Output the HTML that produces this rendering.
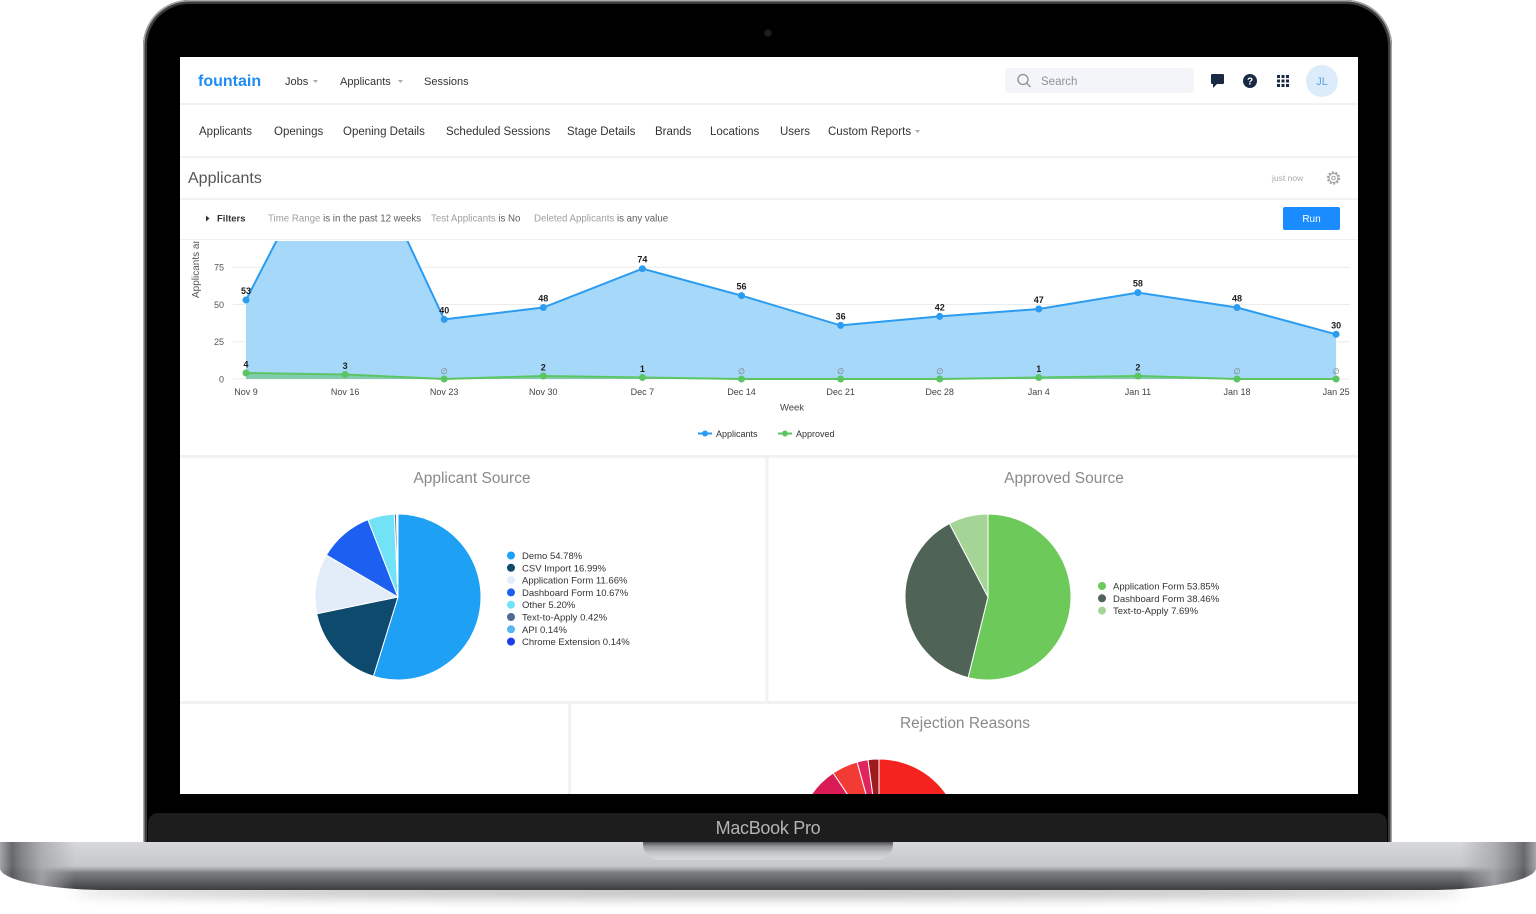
<!DOCTYPE html>
<html><head><meta charset="utf-8"><style>
html,body{margin:0;padding:0;background:#fff;}
body{width:1536px;height:914px;position:relative;overflow:hidden;font-family:"Liberation Sans",sans-serif;}
.abs{position:absolute;}
</style></head><body>

<!-- shadow under base -->
<div class="abs" style="left:70px;top:878px;width:1396px;height:12px;border-radius:50%;box-shadow:0 8px 12px rgba(0,0,0,0.30);"></div>

<!-- lid -->
<div class="abs" style="left:143px;top:0;width:1249px;height:846px;border-radius:46px 46px 0 0;background:#000;box-shadow:inset 0 0 0 1.5px #a8a8a8, inset 0 0 0 4px #3c3c3c;"></div>
<!-- chin -->
<div class="abs" style="left:148px;top:813px;width:1239px;height:30px;background:#1d1d1d;border-radius:10px 10px 0 0;"></div>
<!-- camera -->
<div class="abs" style="left:765px;top:30px;width:6px;height:6px;border-radius:50%;background:#1e1e1e;box-shadow:0 0 0 1px #111;"></div>
<div class="abs" style="left:0;top:818px;width:1536px;text-align:center;font-size:18px;line-height:20px;color:#b4b4b4;letter-spacing:-0.3px;">MacBook Pro</div>

<!-- base -->
<div class="abs" style="left:0;top:842px;width:1536px;height:48px;border-radius:0 0 110px 110px / 0 0 22px 22px;background:linear-gradient(180deg,#d7d8da 0%,#c6c7c9 50%,#a9aaac 56%,#7c7d80 64%,#5f6063 82%,#3c3d40 100%);overflow:hidden;">
  <div style="position:absolute;left:0;top:0;width:100%;height:100%;background:linear-gradient(90deg,#9d9ea1 0,#55565a 12px,#77787b 22px,#a7a8ab 42px,rgba(200,200,200,0) 75px,rgba(200,200,200,0) calc(100% - 75px),#a7a8ab calc(100% - 42px),#77787b calc(100% - 22px),#55565a calc(100% - 12px),#9d9ea1 100%);opacity:0.85;"></div>
</div>
<!-- notch -->
<div class="abs" style="left:643px;top:842px;width:250px;height:18px;border-radius:0 0 16px 16px;background:linear-gradient(180deg,#4e4f52 0,#97989b 25%,#c4c5c7 60%,#d9dadc 100%);"></div>

<!-- screen -->
<svg class="abs" style="left:180px;top:57px;" width="1178" height="737" viewBox="180 57 1178 737" xmlns="http://www.w3.org/2000/svg" font-family="Liberation Sans, sans-serif">
<defs>
  <clipPath id="chartclip"><rect x="180" y="241" width="1178" height="214"/></clipPath>
</defs>
<rect x="180" y="57" width="1178" height="737" fill="#fff"/>

<!-- top nav -->
<text x="198" y="86" font-size="16" font-weight="bold" fill="#1f8cf2">fountain</text>
<text x="285" y="85" font-size="11" fill="#333">Jobs</text>
<path d="M313,80 l5,0 l-2.5,3 z" fill="#aaa"/>
<text x="340" y="85" font-size="11" fill="#333">Applicants</text>
<path d="M398,80 l5,0 l-2.5,3 z" fill="#aaa"/>
<text x="424" y="85" font-size="11" fill="#333">Sessions</text>

<rect x="1005" y="68" width="189" height="25" rx="3" fill="#f3f5f8"/>
<circle cx="1023" cy="79.5" r="5" fill="none" stroke="#8a8f96" stroke-width="1.3"/>
<line x1="1026.8" y1="83.3" x2="1030.5" y2="87" stroke="#8a8f96" stroke-width="1.3"/>
<text x="1041" y="85" font-size="11.5" fill="#8a94a0">Search</text>

<rect x="1211" y="74" width="13" height="10" rx="1" fill="#1b2a44"/>
<path d="M1213,83 l0,5 l5,-5 z" fill="#1b2a44"/>
<circle cx="1250" cy="81" r="7" fill="#1b2a44"/>
<text x="1250" y="84.5" font-size="10" font-weight="bold" fill="#fff" text-anchor="middle">?</text>
<g fill="#1b2a44">
<rect x="1277" y="75" width="3" height="3"/><rect x="1281.5" y="75" width="3" height="3"/><rect x="1286" y="75" width="3" height="3"/>
<rect x="1277" y="79.5" width="3" height="3"/><rect x="1281.5" y="79.5" width="3" height="3"/><rect x="1286" y="79.5" width="3" height="3"/>
<rect x="1277" y="84" width="3" height="3"/><rect x="1281.5" y="84" width="3" height="3"/><rect x="1286" y="84" width="3" height="3"/>
</g>
<circle cx="1322" cy="81" r="16" fill="#dcecfb"/>
<text x="1322" y="85" font-size="11" fill="#5aa0e6" text-anchor="middle">JL</text>
<rect x="180" y="103.5" width="1178" height="1" fill="#e6e6e6"/>

<!-- second nav -->
<g font-size="11.5" fill="#333">
<text x="199" y="135">Applicants</text>
<text x="274" y="135">Openings</text>
<text x="343" y="135">Opening Details</text>
<text x="446" y="135">Scheduled Sessions</text>
<text x="567" y="135">Stage Details</text>
<text x="655" y="135">Brands</text>
<text x="710" y="135">Locations</text>
<text x="780" y="135">Users</text>
<text x="828" y="135">Custom Reports</text>
</g>
<path d="M915,130 l5,0 l-2.5,3 z" fill="#aaa"/>
<rect x="180" y="156.5" width="1178" height="1" fill="#e6e6e6"/>

<!-- title row -->
<text x="188" y="183" font-size="16" fill="#555">Applicants</text>
<text x="1272" y="181" font-size="8.5" fill="#aaa">just now</text>
<circle cx="1333.5" cy="178" r="5.5" fill="none" stroke="#a0a0a0" stroke-width="2.2" stroke-dasharray="2 1.45"/>
<circle cx="1333.5" cy="178" r="4.5" fill="#fff" stroke="#a0a0a0" stroke-width="1"/>
<circle cx="1333.5" cy="178" r="1.8" fill="none" stroke="#a0a0a0" stroke-width="1"/>
<rect x="180" y="198.5" width="1178" height="1" fill="#e6e6e6"/>

<!-- filters -->
<path d="M206,215.5 l3.5,3 l-3.5,3 z" fill="#333"/>
<text x="217" y="221.5" font-size="9.5" font-weight="bold" fill="#333">Filters</text>
<g font-size="9.7">
<text x="268" y="221.5" fill="#a0a0a0">Time Range <tspan fill="#5e5e5e">is in the past 12 weeks</tspan></text>
<text x="431" y="221.5" fill="#a0a0a0">Test Applicants <tspan fill="#5e5e5e">is No</tspan></text>
<text x="534" y="221.5" fill="#a0a0a0">Deleted Applicants <tspan fill="#5e5e5e">is any value</tspan></text>
</g>
<rect x="1283" y="207" width="57" height="23" rx="2" fill="#1a8cff"/>
<text x="1311.5" y="222" font-size="10" fill="#fff" text-anchor="middle">Run</text>
<rect x="180" y="239" width="1178" height="1" fill="#f0f0f0"/>

<!-- chart -->
<g clip-path="url(#chartclip)">
  <g stroke="#ececec" stroke-width="1">
    <line x1="233" y1="230" x2="1350" y2="230"/>
    <line x1="233" y1="267.25" x2="1350" y2="267.25"/>
    <line x1="233" y1="304.5" x2="1350" y2="304.5"/>
    <line x1="233" y1="341.75" x2="1350" y2="341.75"/>
    <line x1="233" y1="379" x2="1350" y2="379"/>
  </g>
  <g font-size="9" fill="#555" text-anchor="end">
    <text x="224" y="270.5">75</text>
    <text x="224" y="307.8">50</text>
    <text x="224" y="345">25</text>
    <text x="224" y="382.3">0</text>
  </g>
  <text transform="translate(199,298) rotate(-90)" font-size="10" fill="#555">Applicants and Approved</text>

  <polygon points="246,379 246,300 345.1,107.8 444.2,319.4 543.3,307.5 642.4,268.7 741.5,295.6 840.6,325.4 939.7,316.4 1038.8,309 1137.9,292.6 1237,307.5 1336.1,334.3 1336.1,379" fill="#a6d8f9"/>
  <polyline points="246,300 345.1,107.8 444.2,319.4 543.3,307.5 642.4,268.7 741.5,295.6 840.6,325.4 939.7,316.4 1038.8,309 1137.9,292.6 1237,307.5 1336.1,334.3" fill="none" stroke="#2b9cf0" stroke-width="2"/>

  <polygon points="246,379 246,373 345.1,374.5 444.2,379 543.3,376 642.4,377.5 741.5,379 840.6,379 939.7,379 1038.8,377.5 1137.9,376 1237,379 1336.1,379" fill="#6cc47f" fill-opacity="0.6"/>
  <polyline points="246,373 345.1,374.5 444.2,379 543.3,376 642.4,377.5 741.5,379 840.6,379 939.7,379 1038.8,377.5 1137.9,376 1237,379 1336.1,379" fill="none" stroke="#5cc563" stroke-width="2"/>

  <g fill="#2b9cf0">
    <circle cx="246" cy="300" r="3.5"/><circle cx="345.1" cy="107.8" r="3.5"/><circle cx="444.2" cy="319.4" r="3.5"/>
    <circle cx="543.3" cy="307.5" r="3.5"/><circle cx="642.4" cy="268.7" r="3.5"/><circle cx="741.5" cy="295.6" r="3.5"/>
    <circle cx="840.6" cy="325.4" r="3.5"/><circle cx="939.7" cy="316.4" r="3.5"/><circle cx="1038.8" cy="309" r="3.5"/>
    <circle cx="1137.9" cy="292.6" r="3.5"/><circle cx="1237" cy="307.5" r="3.5"/><circle cx="1336.1" cy="334.3" r="3.5"/>
  </g>
  <g fill="#5cc563">
    <circle cx="246" cy="373" r="3.5"/><circle cx="345.1" cy="374.5" r="3.5"/><circle cx="444.2" cy="379" r="3.5"/>
    <circle cx="543.3" cy="376" r="3.5"/><circle cx="642.4" cy="377.5" r="3.5"/><circle cx="741.5" cy="379" r="3.5"/>
    <circle cx="840.6" cy="379" r="3.5"/><circle cx="939.7" cy="379" r="3.5"/><circle cx="1038.8" cy="377.5" r="3.5"/>
    <circle cx="1137.9" cy="376" r="3.5"/><circle cx="1237" cy="379" r="3.5"/><circle cx="1336.1" cy="379" r="3.5"/>
  </g>

  <g font-size="9" font-weight="bold" fill="#1e1e1e" text-anchor="middle">
    <text x="246" y="294">53</text><text x="345.1" y="102">182</text><text x="444.2" y="313.4">40</text>
    <text x="543.3" y="301.5">48</text><text x="642.4" y="262.7">74</text><text x="741.5" y="289.6">56</text>
    <text x="840.6" y="319.4">36</text><text x="939.7" y="310.4">42</text><text x="1038.8" y="303">47</text>
    <text x="1137.9" y="286.6">58</text><text x="1237" y="301.5">48</text><text x="1336.1" y="328.3">30</text>
    <text x="246" y="367.5">4</text><text x="345.1" y="369">3</text>
    <text x="543.3" y="370.5">2</text><text x="642.4" y="372">1</text>
    <text x="1038.8" y="372">1</text><text x="1137.9" y="370.5">2</text>
  </g>
  <g font-size="8" fill="#777" text-anchor="middle">
    <text x="444.2" y="374">∅</text><text x="741.5" y="374">∅</text><text x="840.6" y="374">∅</text>
    <text x="939.7" y="374">∅</text><text x="1237" y="374">∅</text><text x="1336.1" y="374">∅</text>
  </g>

  <g font-size="9" fill="#444" text-anchor="middle">
    <text x="246" y="395">Nov 9</text><text x="345.1" y="395">Nov 16</text><text x="444.2" y="395">Nov 23</text>
    <text x="543.3" y="395">Nov 30</text><text x="642.4" y="395">Dec 7</text><text x="741.5" y="395">Dec 14</text>
    <text x="840.6" y="395">Dec 21</text><text x="939.7" y="395">Dec 28</text><text x="1038.8" y="395">Jan 4</text>
    <text x="1137.9" y="395">Jan 11</text><text x="1237" y="395">Jan 18</text><text x="1336.1" y="395">Jan 25</text>
  </g>
  <text x="792" y="410.5" font-size="9.5" fill="#444" text-anchor="middle">Week</text>

  <line x1="698" y1="433.5" x2="712" y2="433.5" stroke="#2b9cf0" stroke-width="2"/>
  <circle cx="705" cy="433.5" r="3" fill="#2b9cf0"/>
  <text x="716" y="436.8" font-size="9" fill="#333">Applicants</text>
  <line x1="778" y1="433.5" x2="792" y2="433.5" stroke="#5cc563" stroke-width="2"/>
  <circle cx="785" cy="433.5" r="3" fill="#5cc563"/>
  <text x="796" y="436.8" font-size="9" fill="#333">Approved</text>
</g>

<!-- dividers -->
<rect x="180" y="455" width="1178" height="3" fill="#f2f2f2"/>
<rect x="765.5" y="458" width="3" height="244" fill="#f2f2f2"/>
<rect x="180" y="701" width="1178" height="3" fill="#f2f2f2"/>
<rect x="568" y="704" width="3" height="90" fill="#f2f2f2"/>

<!-- Applicant Source -->
<text x="472" y="483" font-size="15.5" fill="#8a8a8a" text-anchor="middle">Applicant Source</text>
<g stroke="#fff" stroke-width="1" stroke-linejoin="round">
<path d="M398,597 L398,514 A83,83 0 1 1 373.44,676.28 Z" fill="#1ea0f5"/>
<path d="M398,597 L373.44,676.28 A83,83 0 0 1 316.70,613.73 Z" fill="#0e4a6e"/>
<path d="M398,597 L316.70,613.73 A83,83 0 0 1 326.36,555.08 Z" fill="#e3edf9"/>
<path d="M398,597 L326.36,555.08 A83,83 0 0 1 367.93,519.64 Z" fill="#1d5ff0"/>
<path d="M398,597 L367.93,519.64 A83,83 0 0 1 394.35,514.08 Z" fill="#72e3f7"/>
<path d="M398,597 L394.35,514.08 A83,83 0 0 1 396.54,514.01 Z" fill="#4f6b95"/>
<path d="M398,597 L396.54,514.01 A83,83 0 0 1 397.28,514.0 Z" fill="#5ab6ee"/>
<path d="M398,597 L397.28,514.0 A83,83 0 0 1 398,514 Z" fill="#1a3ee6"/>
</g>
<g font-size="9.5" fill="#333">
<circle cx="511" cy="555.5" r="4" fill="#1ea0f5"/><text x="522" y="559">Demo 54.78%</text>
<circle cx="511" cy="567.8" r="4" fill="#0e4a6e"/><text x="522" y="571.3">CSV Import 16.99%</text>
<circle cx="511" cy="580.1" r="4" fill="#e3edf9"/><text x="522" y="583.6">Application Form 11.66%</text>
<circle cx="511" cy="592.4" r="4" fill="#1d5ff0"/><text x="522" y="595.9">Dashboard Form 10.67%</text>
<circle cx="511" cy="604.7" r="4" fill="#72e3f7"/><text x="522" y="608.2">Other 5.20%</text>
<circle cx="511" cy="617" r="4" fill="#4f6b95"/><text x="522" y="620.5">Text-to-Apply 0.42%</text>
<circle cx="511" cy="629.3" r="4" fill="#5ab6ee"/><text x="522" y="632.8">API 0.14%</text>
<circle cx="511" cy="641.6" r="4" fill="#1a3ee6"/><text x="522" y="645.1">Chrome Extension 0.14%</text>
</g>

<!-- Approved Source -->
<text x="1064" y="483" font-size="15.5" fill="#8a8a8a" text-anchor="middle">Approved Source</text>
<g stroke="#fff" stroke-width="1" stroke-linejoin="round">
<path d="M988,597 L988,514 A83,83 0 1 1 968.11,677.58 Z" fill="#6cc95a"/>
<path d="M988,597 L968.11,677.58 A83,83 0 0 1 949.45,523.50 Z" fill="#4f6456"/>
<path d="M988,597 L949.45,523.50 A83,83 0 0 1 988,514 Z" fill="#a4d597"/>
</g>
<g font-size="9.5" fill="#333">
<circle cx="1102" cy="586" r="4" fill="#6cc95a"/><text x="1113" y="589.5">Application Form 53.85%</text>
<circle cx="1102" cy="598.3" r="4" fill="#4f6456"/><text x="1113" y="601.8">Dashboard Form 38.46%</text>
<circle cx="1102" cy="610.6" r="4" fill="#a4d597"/><text x="1113" y="614.1">Text-to-Apply 7.69%</text>
</g>

<!-- Rejection Reasons -->
<text x="965" y="728" font-size="15.5" fill="#8a8a8a" text-anchor="middle">Rejection Reasons</text>
<g stroke="#fff" stroke-width="1" stroke-linejoin="round">
<path d="M879,841 L879,759 A82,82 0 1 1 850.96,918.05 Z" fill="#f5231f"/>
<path d="M879,841 L850.96,918.05 A82,82 0 0 1 833.15,773.02 Z" fill="#d91a55"/>
<path d="M879,841 L833.15,773.02 A82,82 0 0 1 857.09,761.98 Z" fill="#f23b35"/>
<path d="M879,841 L857.09,761.98 A82,82 0 0 1 868.01,759.74 Z" fill="#e0245e"/>
<path d="M879,841 L868.01,759.74 A82,82 0 0 1 879,759 Z" fill="#a01c1c"/>
</g>
</svg>

</body></html>
